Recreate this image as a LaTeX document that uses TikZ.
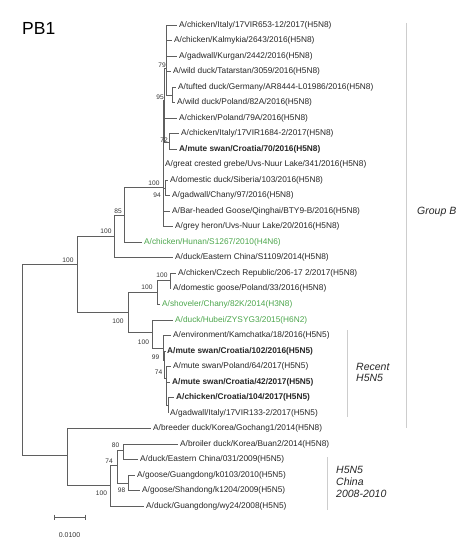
\documentclass[tikz,border=0pt]{standalone}
\usepackage{fontspec}
\setmainfont{Liberation Sans}
\usetikzlibrary{positioning}

\definecolor{arbre}{RGB}{95,95,95}
\definecolor{vert}{RGB}{76,166,76}
\definecolor{barre}{RGB}{205,205,205}

\begin{document}
\begin{tikzpicture}[x=1pt, y=-1pt,
    twig/.style={draw=arbre, line width=0.8pt},
    leaf/.style={anchor=west, inner sep=2pt, text=black!85, font=\fontsize{8.3}{10}\selectfont},
    boot/.style={inner sep=0pt, text=black!80, font=\fontsize{6.6}{8}\selectfont},
    clade/.style={draw=barre, line width=0.8pt},
    group/.style={anchor=west, align=left, inner sep=0pt, text=black!85, font=\fontsize{10.5}{11.7}\selectfont\itshape}]

    \useasboundingbox (0,0) rectangle (474,559);

    % Titre
    \node[anchor=west, inner sep=0pt, font=\fontsize{17.5}{20}\selectfont] (titre) at (22,28.5) {PB1};

    % Feuilles H5N8 (groupe B)
    \node[leaf] (italyA) at (177,25.0) {A/chicken/Italy/17VIR653-12/2017(H5N8)};
    \node[leaf] (kalmykia) at (172,40.5) {A/chicken/Kalmykia/2643/2016(H5N8)};
    \node[leaf] (kurgan) at (177,56.0) {A/gadwall/Kurgan/2442/2016(H5N8)};
    \node[leaf] (tatarstan) at (171,71.6) {A/wild duck/Tatarstan/3059/2016(H5N8)};
    \node[leaf] (tufted) at (176,87.1) {A/tufted duck/Germany/AR8444-L01986/2016(H5N8)};
    \node[leaf] (wildpoland) at (175,102.6) {A/wild duck/Poland/82A/2016(H5N8)};
    \node[leaf] (chickpoland) at (177,118.1) {A/chicken/Poland/79A/2016(H5N8)};
    \node[leaf] (italyB) at (179,133.6) {A/chicken/Italy/17VIR1684-2/2017(H5N8)};
    \node[leaf] (swan70) at (177,149.2) {\textbf{A/mute swan/Croatia/70/2016(H5N8)}};
    \node[leaf] (grebe) at (163,164.7) {A/great crested grebe/Uvs-Nuur Lake/341/2016(H5N8)};
    \node[leaf] (domduck) at (168,180.2) {A/domestic duck/Siberia/103/2016(H5N8)};
    \node[leaf] (chany) at (170,195.7) {A/gadwall/Chany/97/2016(H5N8)};
    \node[leaf] (qinghai) at (170,211.2) {A/Bar-headed Goose/Qinghai/BTY9-B/2016(H5N8)};
    \node[leaf] (heron) at (173,226.8) {A/grey heron/Uvs-Nuur Lake/20/2016(H5N8)};
    \node[leaf, text=vert] (hunan) at (142,242.3) {A/chicken/Hunan/S1267/2010(H4N6)};
    \node[leaf] (eastchina) at (173,257.8) {A/duck/Eastern China/S1109/2014(H5N8)};
    \node[leaf] (czech) at (176,273.3) {A/chicken/Czech Republic/206-17 2/2017(H5N8)};
    \node[leaf] (goose33) at (171,288.8) {A/domestic goose/Poland/33/2016(H5N8)};
    \node[leaf, text=vert] (shoveler) at (160,304.4) {A/shoveler/Chany/82K/2014(H3N8)};
    \node[leaf, text=vert] (hubei) at (173,319.9) {A/duck/Hubei/ZYSYG3/2015(H6N2)};

    % Feuilles H5N5 recentes
    \node[leaf] (kamchatka) at (171,335.4) {A/environment/Kamchatka/18/2016(H5N5)};
    \node[leaf] (swan102) at (165,350.9) {\textbf{A/mute swan/Croatia/102/2016(H5N5)}};
    \node[leaf] (swan64) at (171,366.4) {A/mute swan/Poland/64/2017(H5N5)};
    \node[leaf] (swan42) at (170,381.9) {\textbf{A/mute swan/Croatia/42/2017(H5N5)}};
    \node[leaf] (chick104) at (174,397.5) {\textbf{A/chicken/Croatia/104/2017(H5N5)}};
    \node[leaf] (gadwallit) at (168,413.0) {A/gadwall/Italy/17VIR133-2/2017(H5N5)};

    % Feuilles Coree et Chine
    \node[leaf] (breeder) at (151,428.5) {A/breeder duck/Korea/Gochang1/2014(H5N8)};
    \node[leaf] (broiler) at (178,444.0) {A/broiler duck/Korea/Buan2/2014(H5N8)};
    \node[leaf] (china09) at (138,459.6) {A/duck/Eastern China/031/2009(H5N5)};
    \node[leaf] (guangdong) at (135,475.1) {A/goose/Guangdong/k0103/2010(H5N5)};
    \node[leaf] (shandong) at (140,490.6) {A/goose/Shandong/k1204/2009(H5N5)};
    \node[leaf] (wy24) at (144,506.1) {A/duck/Guangdong/wy24/2008(H5N5)};

    % Noeuds internes
    \coordinate (root) at (22,360);
    \coordinate (n1) at (77,264);
    \coordinate (n2) at (114,236);
    \coordinate (n3) at (124,215);
    \coordinate (n4) at (163,187);
    \coordinate (n5) at (164.5,100);
    \coordinate (n6) at (166.5,68);
    \coordinate (n7) at (172,95);
    \coordinate (n8) at (169,142);
    \coordinate (n9) at (165,188);
    \coordinate (n10) at (128,312);
    \coordinate (n11) at (157,292);
    \coordinate (n12) at (170,280);
    \coordinate (n13) at (152,332);
    \coordinate (n14) at (163,348);
    \coordinate (n15) at (164.5,360);
    \coordinate (n16) at (166,378);
    \coordinate (n17) at (168,405);
    \coordinate (n18) at (67,455);
    \coordinate (n19) at (110,485);
    \coordinate (n20) at (117,465);
    \coordinate (n21) at (123,450);
    \coordinate (n22) at (128,483);

    % Branches
    \draw[twig] (root) |- (n1);
    \draw[twig] (root) |- (n18);
    \draw[twig] (n1) |- (n2);
    \draw[twig] (n1) |- (n10);
    \draw[twig] (n2) |- (n3);
    \draw[twig] (n2) |- (eastchina.west);
    \draw[twig] (n3) |- (n4);
    \draw[twig] (n3) |- (hunan.west);
    \draw[twig] (n4) |- (n5);
    \draw[twig] (n4) |- (grebe.west);
    \draw[twig] (n4) |- (n9);
    \draw[twig] (n4) |- (qinghai.west);
    \draw[twig] (n4) |- (heron.west);
    \draw[twig] (n9) |- (domduck.west);
    \draw[twig] (n9) |- (chany.west);
    \draw[twig] (n5) |- (n6);
    \draw[twig] (n5) |- (chickpoland.west);
    \draw[twig] (n5) |- (n8);
    \draw[twig] (n6) |- (italyA.west);
    \draw[twig] (n6) |- (kalmykia.west);
    \draw[twig] (n6) |- (kurgan.west);
    \draw[twig] (n6) |- (tatarstan.west);
    \draw[twig] (n6) |- (n7);
    \draw[twig] (n7) |- (tufted.west);
    \draw[twig] (n7) |- (wildpoland.west);
    \draw[twig] (n8) |- (italyB.west);
    \draw[twig] (n8) |- (swan70.west);
    \draw[twig] (n10) |- (n11);
    \draw[twig] (n10) |- (n13);
    \draw[twig] (n11) |- (n12);
    \draw[twig] (n11) |- (shoveler.west);
    \draw[twig] (n12) |- (czech.west);
    \draw[twig] (n12) |- (goose33.west);
    \draw[twig] (n13) |- (hubei.west);
    \draw[twig] (n13) |- (n14);
    \draw[twig] (n14) |- (kamchatka.west);
    \draw[twig] (n14) |- (n15);
    \draw[twig] (n15) |- (swan102.west);
    \draw[twig] (n15) |- (n16);
    \draw[twig] (n16) |- (swan64.west);
    \draw[twig] (n16) |- (swan42.west);
    \draw[twig] (n16) |- (n17);
    \draw[twig] (n17) |- (chick104.west);
    \draw[twig] (n17) |- (gadwallit.west);
    \draw[twig] (n18) |- (breeder.west);
    \draw[twig] (n18) |- (n19);
    \draw[twig] (n19) |- (n20);
    \draw[twig] (n19) |- (wy24.west);
    \draw[twig] (n20) |- (n21);
    \draw[twig] (n20) |- (n22);
    \draw[twig] (n21) |- (broiler.west);
    \draw[twig] (n21) |- (china09.west);
    \draw[twig] (n22) |- (guangdong.west);
    \draw[twig] (n22) |- (shandong.west);

    % Valeurs de bootstrap
    \node[boot] (b1) at (68,260) {100};
    \node[boot] (b2) at (106,231) {100};
    \node[boot] (b3) at (118,211) {85};
    \node[boot] (b4) at (154,183) {100};
    \node[boot] (b5) at (160,97) {95};
    \node[boot] (b6) at (162,65) {79};
    \node[boot] (b7) at (164,140) {72};
    \node[boot] (b8) at (157,195) {94};
    \node[boot] (b9) at (118,321) {100};
    \node[boot] (b10) at (147,287) {100};
    \node[boot] (b11) at (162,275) {100};
    \node[boot] (b12) at (143.5,342) {100};
    \node[boot] (b13) at (155.5,357) {99};
    \node[boot] (b14) at (158.5,372) {74};
    \node[boot] (b15) at (115.5,445) {80};
    \node[boot] (b16) at (109,461.5) {74};
    \node[boot] (b17) at (121.5,490) {98};
    \node[boot] (b18) at (101.5,493.5) {100};

    % Groupes
    \coordinate (gbtop) at (406,23);
    \coordinate (gbbot) at (406,428);
    \draw[clade] (gbtop) -- (gbbot);
    \node[group] (groupb) at (417,212) {Group B};

    \coordinate (rectop) at (347,330);
    \coordinate (recbot) at (347,417);
    \draw[clade] (rectop) -- (recbot);
    \node[group] (recent) at (356,372.5) {Recent\\H5N5};

    \coordinate (chtop) at (327,457);
    \coordinate (chbot) at (327,510);
    \draw[clade] (chtop) -- (chbot);
    \node[group] (chine) at (336,482) {H5N5\\China\\2008-2010};

    % Echelle
    \coordinate (s0) at (54,517);
    \coordinate (s1) at (85,517);
    \draw[twig] (s0) -- (s1);
    \draw[twig] ([yshift=2.5pt]s0) -- ([yshift=-2.5pt]s0);
    \draw[twig] ([yshift=2.5pt]s1) -- ([yshift=-2.5pt]s1);
    \node[boot, font=\fontsize{7}{8}\selectfont] (echelle) at (69.5,535.5) {0.0100};

\end{tikzpicture}
\end{document}
